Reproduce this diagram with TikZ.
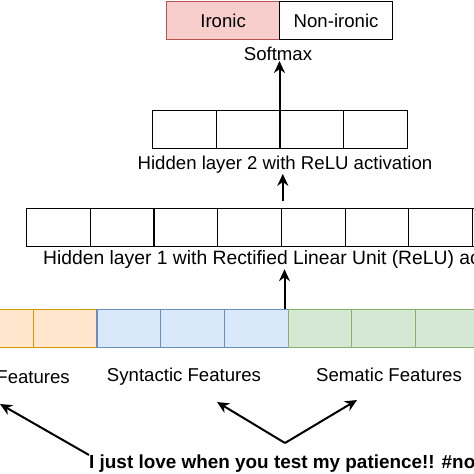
\documentclass[tikz,border=0pt]{standalone}
\usepackage{fontspec}
\setmainfont{Liberation Sans}
\usepackage{xcolor}
\definecolor{plainline}{RGB}{0,0,0}
\definecolor{plainfill}{RGB}{255,255,255}
\definecolor{ironicline}{HTML}{B85450}
\definecolor{ironicfill}{HTML}{F8CECC}
\definecolor{lexicalline}{HTML}{D79B00}
\definecolor{lexicalfill}{HTML}{FFE6CC}
\definecolor{syntaxline}{HTML}{6C8EBF}
\definecolor{syntaxfill}{HTML}{DAE8FC}
\definecolor{semaline}{HTML}{82B366}
\definecolor{semafill}{HTML}{D5E8D4}
\usetikzlibrary{arrows.meta, positioning, calc}

\begin{document}
\begin{tikzpicture}[x=1pt, y=-1pt,
        cell/.style={rectangle, draw=#1line, fill=#1fill, line width=1.2pt, minimum width=63.7pt, minimum height=38pt, inner sep=0pt, anchor=north west},
        cell/.default=plain,
        txt/.style={inner sep=0pt, font=\fontsize{18.6}{22}\selectfont},
        arrow/.style={-{Stealth[length=12pt, width=11pt]}, line width=2pt, color=black}
    ]
        \useasboundingbox (0,0) rectangle (474,474);
        \clip (0,0) rectangle (474,474);

        % output layer
        \node[cell=ironic, minimum width=113pt] (ironic) at (166,1) {};
        \node[cell, minimum width=113pt] (nonironic) at (279,1) {};
        \node[txt] at (ironic.center) {Ironic};
        \node[txt] at (nonironic.center) {Non-ironic};
        \node[txt] (softmax) at (278,54) {Softmax};

        % hidden layers
        \foreach \i in {1,...,4}
            \node[cell] (h2-\i) at ({152+63.75*(\i-1)},110) {};
        \node[txt] (h2label) at (285,165) {Hidden layer 2 with ReLU activation};
        \foreach \i in {1,...,8}
            \node[cell] (h1-\i) at ({26+63.7*(\i-1)},208) {};
        \node[txt, anchor=west, font=\fontsize{19.3}{22}\selectfont] (h1label) at (43,260) {Hidden layer 1 with Rectified Linear Unit (ReLU) activation};

        % feature vector
        \foreach \i/\c in {0/lexical,1/lexical,2/syntax,3/syntax,4/syntax,5/sema,6/sema,7/sema}
            \node[cell=\c] (f\i) at ({-31+63.7*\i},309) {};
        \node[txt, anchor=east] (lexlabel) at (70,377) {Features};
        \node[txt] (synlabel) at (184,377) {Syntactic Features};
        \node[txt] (semlabel) at (389,375) {Sematic Features};

        % input tweet
        \node[txt, anchor=west, font=\fontsize{18.9}{22}\selectfont\bfseries] (tweet) at (89,464) {I just love when you test my patience!! \#no};
        \coordinate (fork) at (285,443);
        \coordinate (lexhead) at (0,404);
        \coordinate (synhead) at (217,402);
        \coordinate (semhead) at (357,400);
        \coordinate (h1tail) at ($(h1-5.north west)+(2,-7)$);
        \coordinate (h1head) at (h1tail |- h2label.south);
        \coordinate (ftail) at ($(f5.north west)+(-3,0)$);
        \coordinate (fhead) at (ftail |- h1label.south);

        \draw[arrow] (h2-3.north west) -- (h2-3.north west |- softmax.south);
        \draw[arrow] (h1tail) -- (h1head);
        \draw[arrow] (ftail) -- (fhead);
        \draw[arrow] (tweet.north west) -- (lexhead);
        \draw[arrow] (fork) -- (synhead);
        \draw[arrow] (fork) -- (semhead);
    \end{tikzpicture}
\end{document}
